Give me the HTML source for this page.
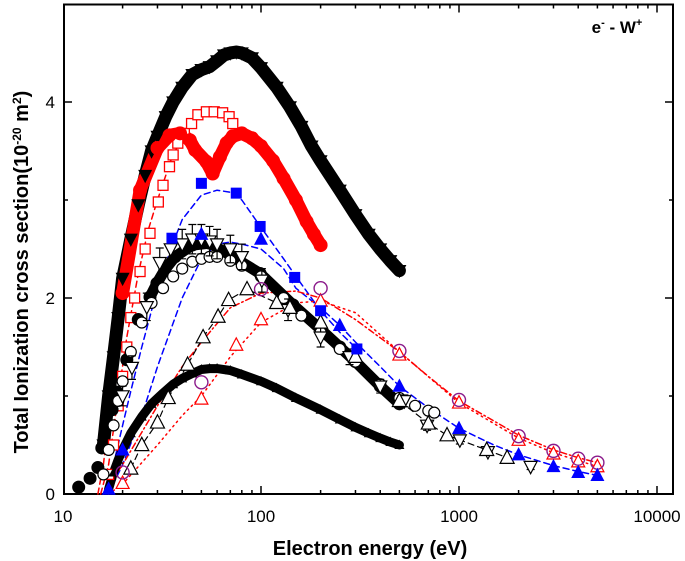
<!DOCTYPE html>
<html><head><meta charset="utf-8">
<style>
html,body{margin:0;padding:0;background:#fff;}
svg{display:block;font-family:"Liberation Sans",Arial,sans-serif;}
</style></head>
<body>
<svg id="chart" width="685" height="561" viewBox="0 0 685 561" xmlns="http://www.w3.org/2000/svg">
<g id="plot"></g>
<text x="617" y="33" font-size="17" font-weight="bold" text-anchor="middle">e<tspan dy="-7" font-size="11">-</tspan><tspan dy="7"> - W</tspan><tspan dy="-7" font-size="11">+</tspan></text>
<text x="370" y="555" font-size="20" font-weight="bold" text-anchor="middle">Electron energy (eV)</text>
<text transform="translate(28,272) rotate(-90)" font-size="20" font-weight="bold" text-anchor="middle">Total Ionization cross section(10<tspan dy="-7" font-size="12">-20</tspan><tspan dy="7"> m</tspan><tspan dy="-7" font-size="12">2</tspan><tspan dy="7">)</tspan></text>
</svg>
<script>
// ---- data ----
const xTicks = [10, 100, 1000, 10000];
const xTickLabels = ["10", "100", "1000", "10000"];
const yTicks = [0, 2, 4];
const yTickLabels = ["0", "2", "4"];

const downTriE = [16,17,18,19,20,22,24,26,28,30,33,36,40,45,50,55,60,65,70,75,80,90,100,120,140,160,180,200,250,300,350,400,450,500];
const downTriV = [0.5,1.0,1.4,1.8,2.2,2.6,2.95,3.25,3.5,3.65,3.85,4.0,4.15,4.28,4.33,4.36,4.42,4.48,4.5,4.51,4.5,4.45,4.35,4.15,3.95,3.75,3.55,3.4,3.1,2.85,2.65,2.5,2.38,2.28];

const redCircE = [20,24.5,30,34.5,39,43.7,46.5,53,57,62,67,72,80,90,100,115,130,150,170,185,200];
const redCircV = [2.05,3.1,3.53,3.66,3.68,3.61,3.51,3.39,3.27,3.44,3.58,3.65,3.68,3.63,3.55,3.4,3.22,3.0,2.78,2.65,2.54];

const redSqE = [17,18,19,20,21,22,23,24.5,26,27.5,30.3,32,34.5,36,38,41,44.6,48,53,58,64,69,72];
const redSqV = [0.2,0.5,0.9,1.2,1.5,1.8,2.0,2.27,2.5,2.66,2.98,3.15,3.34,3.46,3.58,3.68,3.78,3.87,3.9,3.9,3.89,3.85,3.78];
const redSqFitE = [15.5,17,19,21,24,27,30,35,40,45,50,55,60,65,70,75];
const redSqFitV = [0,0.3,1.0,1.6,2.25,2.7,3.0,3.4,3.65,3.8,3.88,3.91,3.9,3.87,3.82,3.75];
const redCircFitE = [15,16,17,18,19,20,22,25,28,30];
const redCircFitV = [0,0.3,0.75,1.2,1.65,2.05,2.6,3.15,3.45,3.53];

const blueSqE = [35.5,50,75,99,148,200,305];
const blueSqV = [2.61,3.17,3.07,2.73,2.21,1.87,1.48];
const blueSqFitE = [16,18,20,22,25,30,35,40,50,60,70,80,100,130,150,200,250,305];
const blueSqFitV = [0,0.3,0.7,1.05,1.5,2.1,2.5,2.8,3.05,3.1,3.08,3.0,2.72,2.4,2.22,1.87,1.65,1.48];

const blueTriE = [17,20,50,100,250,500,1000,2000,3000,4000,5000];
const blueTriV = [0.05,0.45,2.65,2.6,1.72,1.1,0.67,0.4,0.28,0.22,0.19];
const blueTriFitE = [17,20,25,30,40,50,60,70,80,100,130,150,200,250,300,400,500,700,1000,1500,2000,3000,4000,5000];
const blueTriFitV = [0,0.3,0.8,1.3,2.0,2.4,2.55,2.57,2.55,2.5,2.3,2.1,1.9,1.72,1.55,1.3,1.1,0.88,0.67,0.5,0.4,0.29,0.23,0.19];

const purpCircE = [20,50,100,200,500,1000,2000,3000,4000,5000];
const purpCircV = [0.22,1.14,2.09,2.1,1.46,0.96,0.59,0.44,0.36,0.32];
const dashDotFitE = [16,20,30,40,50,70,100,150,200,300,500,700,1000,2000,3000,4000,5000];
const dashDotFitV = [0,0.3,0.9,1.3,1.55,1.9,2.05,2.07,2.0,1.78,1.45,1.2,0.95,0.6,0.45,0.37,0.32];

const redTriE = [20,50,75,100,200,500,1000,2000,3000,4000,5000];
const redTriV = [0.11,0.97,1.52,1.78,1.97,1.42,0.93,0.55,0.41,0.33,0.28];
const dottedFitE = [17,20,30,40,50,70,100,150,200,300,500,1000,2000,3000,5000];
const dottedFitV = [0,0.1,0.5,0.8,1.0,1.4,1.75,1.95,1.97,1.85,1.45,0.93,0.57,0.42,0.28];

const openTriE = [22,25,30,34,42.6,51,60.7,68.6,85,120,140,200,300,500,700,870,1380,1750];
const openTriV = [0.26,0.5,0.73,0.98,1.32,1.6,1.81,1.98,2.09,1.95,1.9,1.75,1.4,0.95,0.72,0.6,0.45,0.37];

const smallTriE = [17,18,19,20,22,25,28,32,36,40,45,50,55,60,70,80,100,120,150,200,250,300,350,400,450,500];
const smallTriV = [0.05,0.22,0.35,0.45,0.62,0.79,0.92,1.03,1.12,1.18,1.23,1.27,1.28,1.28,1.26,1.22,1.15,1.08,0.98,0.86,0.76,0.68,0.62,0.57,0.53,0.5];

const blackCircE = [12,13.7,15,15.7,16.7,17.7,18.7,21,24,27.5,29.8,32.7,36.8,45,55,72,99,145,200,250,300,400,500];
const blackCircV = [0.07,0.16,0.27,0.47,0.69,0.86,1.04,1.37,1.78,2.01,2.15,2.29,2.42,2.54,2.56,2.42,2.25,1.93,1.68,1.5,1.35,1.1,0.92];

const openCircE = [16,17,18,19,20,22,25,28,32,36,40,45,50,55,60,70,80,100,130,160,200,250,300,400,500,600,700,750];
const openCircV = [0.2,0.45,0.7,0.95,1.15,1.45,1.75,1.95,2.1,2.22,2.3,2.37,2.4,2.42,2.42,2.38,2.33,2.22,2.0,1.82,1.65,1.48,1.35,1.12,0.98,0.9,0.85,0.83];

const errTriE = [20,22.3,26.5,30.8,35,40,45,50,55,60,70,80,101,137,200,280,400,530,690,1010,1400,2300];
const errTriV = [1.0,1.29,1.91,2.36,2.5,2.55,2.6,2.6,2.58,2.55,2.5,2.42,2.18,1.88,1.6,1.4,1.1,0.95,0.7,0.55,0.43,0.28];
const errTriErr = [0.1,0.12,0.14,0.15,0.15,0.15,0.15,0.15,0.15,0.15,0.14,0.13,0.12,0.11,0.1,0.08,0.07,0.06,0.05,0.04,0.03,0.03];

// ---- axes ----
const X0 = 63, DEC = 198, Y0 = 494, YU = 98;
const L = 64, R = 673, T = 4.5, B = 494;
function xs(e){ return X0 + DEC*Math.log10(e/10); }
function ys(v){ return Y0 - YU*v; }

const NS = "http://www.w3.org/2000/svg";
const plot = document.getElementById('plot');
function el(tag, attrs, parent){
  const n = document.createElementNS(NS, tag);
  for (const k in attrs) n.setAttribute(k, attrs[k]);
  (parent || plot).appendChild(n);
  return n;
}
function pts(E, V){ return E.map((e,i)=>xs(e).toFixed(1)+','+ys(V[i]).toFixed(1)).join(' '); }

function line(E, V, color, width, dash, name){
  const p = el('polyline', {points: pts(E,V), fill:'none', stroke:color, 'stroke-width':width, 'stroke-dasharray':dash, 'stroke-linejoin':'round', 'stroke-linecap':'round'});
  
  
  return p;
}
function marker(shape, x, y, s, fill, stroke, sw){
  let n;
  const h = s/2;
  if (shape === 'circle') n = el('circle', {cx:x, cy:y, r:h});
  else if (shape === 'square') n = el('rect', {x:x-h, y:y-h, width:s, height:s});
  else if (shape === 'up') n = el('polygon', {points:`${x},${y-h*1.1} ${x-h},${y+h*0.8} ${x+h},${y+h*0.8}`});
  else n = el('polygon', {points:`${x},${y+h*1.1} ${x-h},${y-h*0.8} ${x+h},${y-h*0.8}`});
  n.setAttribute('fill', fill);
  n.setAttribute('stroke', stroke);
  n.setAttribute('stroke-width', sw);
  return n;
}
function series(E, V, shape, s, fill, stroke, sw, name){
  E.forEach((e,i)=>{
    const m = marker(shape, xs(e), ys(V[i]), s, fill, stroke, sw);
    
    
  });
}

// frame and ticks
const frame = el('rect', {x:L, y:T, width:R-L, height:B-T, fill:'none', stroke:'#000', 'stroke-width':2});



for (let d=10; d<=10000; d*=10){
  for (let k=1; k<10; k++){
    const e = d*k;
    if (e > 10000) break;
    const x = xs(e);
    if (x < L+1 || x > R-1) continue;
    const len = k===1 ? 8 : 4;
    const tb = el('line', {x1:x, y1:B, x2:x, y2:B-len, stroke:'#000', 'stroke-width':1.5});
    
    
    const tt = el('line', {x1:x, y1:T, x2:x, y2:T+len, stroke:'#000', 'stroke-width':1.5});
    
    
  }
}
xTicks.forEach((e,i)=>{
  const t = el('text', {x:xs(e), y:522, 'font-size':17, 'text-anchor':'middle'});
  t.textContent = xTickLabels[i];
  
  
});
for (let v=1; v<=4; v++){
  const y = ys(v);
  const len = v%2===0 ? 8 : 4;
  const a = el('line', {x1:L, y1:y, x2:L+len, y2:y, stroke:'#000', 'stroke-width':1.5});
  
  
  const b = el('line', {x1:R, y1:y, x2:R-len, y2:y, stroke:'#000', 'stroke-width':1.5});
  
  
}
yTicks.forEach((v,i)=>{
  const t = el('text', {x:55, y:ys(v)+6, 'font-size':17, 'text-anchor':'end'});
  t.textContent = yTickLabels[i];
  
  
});

// fit lines
line(redSqFitE, redSqFitV, '#f00', 1.5, '6,4', 'red-dashed-fit');
line(redCircFitE, redCircFitV, '#f00', 1.5, '6,4', 'red-dashed-fit-2');
line(blueSqFitE, blueSqFitV, '#00f', 1.5, '6,4', 'blue-dashed-fit-squares');
line(blueTriFitE, blueTriFitV, '#00f', 1.5, '6,4', 'blue-dashed-fit-triangles');
line(dashDotFitE, dashDotFitV, '#f00', 1.5, '6,3,1.5,3', 'red-dash-dot-fit');
line(dottedFitE, dottedFitV, '#f00', 1.5, '1.5,4', 'red-dotted-fit');
line(openTriE, openTriV, '#000', 1.2, '6,4', 'black-dashed-fit');

// dense bands
line(downTriE, downTriV, '#000', 13, 'none', 'filled-down-triangle-band');
line(redCircE, redCircV, '#f00', 13, 'none', 'red-circle-band');
line(smallTriE, smallTriV, '#000', 9, 'none', 'filled-up-triangle-band');
line(blackCircE.slice(9), blackCircV.slice(9), '#000', 11, 'none', 'black-circle-band');

// markers
series(downTriE, downTriV, 'down', 14, '#000', '#000', 0, 'filled-down-triangle');
series(redSqE, redSqV, 'square', 10, '#fff', '#f00', 1.3, 'red-open-square');
series(redCircE, redCircV, 'circle', 14, '#f00', '#f00', 0, 'red-filled-circle');
series(smallTriE, smallTriV, 'up', 10, '#000', '#000', 0, 'filled-up-triangle');
series(blackCircE, blackCircV, 'circle', 13, '#000', '#000', 0, 'black-filled-circle');
series(openCircE, openCircV, 'circle', 11, '#fff', '#000', 1.2, 'black-open-circle');
errTriE.forEach((e,i)=>{
  const x = xs(e), y1 = ys(errTriV[i]-errTriErr[i]), y2 = ys(errTriV[i]+errTriErr[i]);
  const eb = el('path', {d:`M${x},${y1}V${y2}M${x-4},${y2}H${x+4}M${x-4},${y1}H${x+4}`, stroke:'#000', 'stroke-width':1.2, fill:'none'});
  
  
});
series(errTriE, errTriV, 'down', 13, '#fff', '#000', 1.2, 'open-down-triangle');
series(openTriE, openTriV, 'up', 14, '#fff', '#000', 1.2, 'open-up-triangle');
series(redTriE, redTriV, 'up', 13, '#fff', '#f00', 1.2, 'red-open-triangle');
series(purpCircE, purpCircV, 'circle', 13, 'none', '#8b1a8b', 1.4, 'purple-open-circle');
series(blueSqE, blueSqV, 'square', 11, '#00f', '#00f', 0, 'blue-filled-square');
series(blueTriE, blueTriV, 'up', 14, '#00f', '#00f', 0, 'blue-filled-triangle');
</script>
</body></html>
